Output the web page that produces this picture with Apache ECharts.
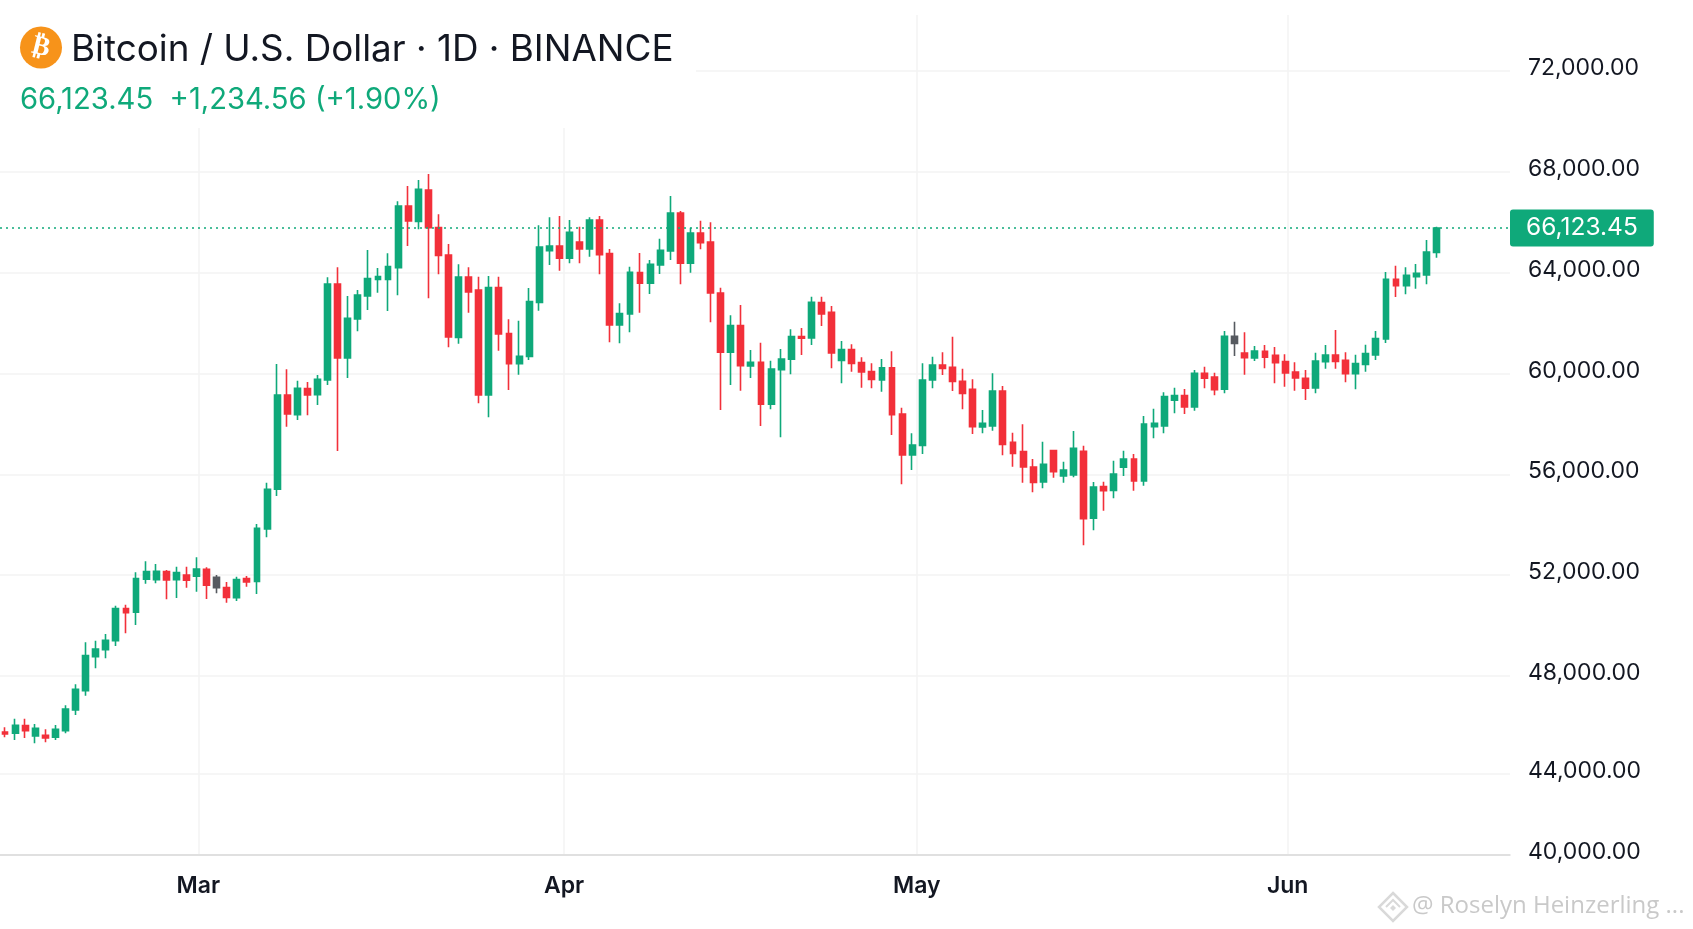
<!DOCTYPE html>
<html>
<head>
<meta charset="utf-8">
<title>Bitcoin / U.S. Dollar</title>
<style>html,body{margin:0;padding:0;background:#fff}#chart{width:1693px;height:929px}</style>
<script src="https://cdn.jsdelivr.net/npm/echarts@6/dist/echarts.min.js"></script>
</head>
<body>
<div id="chart"></div>
<script>
const titleText = 'Bitcoin / U.S. Dollar · 1D · BINANCE';
const quoteText = '66,123.45  +1,234.56 (+1.90%)';
const priceTagText = '66,123.45';
const watermarkText = '@ Roselyn Heinzerling ...';

const opens = [45779,45726,46030,45620,45646,45567,45832,46652,47419,48768,
49046,49403,50673,50527,51837,51823,52141,51823,52009,51956,
52233,51916,51506,51109,51863,51757,53834,55408,59151,58371,
59402,59164,59746,63556,60619,62167,63079,63741,63741,64204,
66651,66042,67286,65791,64706,61439,63833,63317,59151,63410,
61585,60394,60685,62828,64879,65064,64575,65223,64945,66096,
64760,61929,62366,64006,63583,64310,64866,66374,64376,65580,
65223,63199,60845,61903,60302,60448,58781,60157,60567,61466,
61413,62815,62432,60526,60950,60434,60077,59746,60235,58397,
56770,57153,59746,60341,60249,59693,59376,57881,57921,59309,
57272,56902,56294,55698,56942,55937,55976,56915,54257,55514,
55368,56281,56612,55739,57895,57921,58940,59125,58675,60011,
59865,59376,61479,60818,60619,60884,60725,60474,60064,59813,
59429,60474,60738,60527,59998,60368,60738,61373,63741,63490,
63847,63913,64812];
const closes = [45699,46043,45832,45924,45541,45884,46691,47472,48808,49072,
49416,50673,50514,51863,52141,52154,51810,52101,51797,52247,
51599,51506,51122,51823,51731,53860,55408,59151,58397,59416,
59151,59773,63556,60619,62193,63119,63767,63847,64243,66651,
66055,67312,65791,64693,61452,63833,63238,59151,63410,61571,
60394,60685,62855,65024,65064,64575,65606,64945,66096,64720,
61929,62379,64019,63583,64337,64892,66374,64376,65580,65196,
63199,60845,61903,60316,60448,58781,60183,60580,61466,61400,
62829,62366,60818,60950,60407,60063,59772,60235,58370,56770,
57167,59746,60341,60209,59693,59217,57894,58026,59309,57193,
56836,56294,55685,56399,56108,56175,57034,54243,55500,55355,
56017,56612,55739,58001,58027,59085,59125,58675,60011,59813,
59363,61479,61201,60633,60897,60646,60434,60024,59826,59416,
60500,60738,60487,59998,60395,60791,61387,63741,63490,63900,
63979,64826,65778];
const lows = [45567,45461,45541,45329,45369,45461,45726,46453,47220,48305,
48702,49191,49694,50024,51665,51678,51043,51096,51506,51347,
51056,51281,50911,50977,51546,51255,53504,55144,57894,58159,
58344,58754,59548,56929,59826,61677,62524,63212,62484,63106,
65063,65725,62987,63939,61042,61188,62418,58820,58265,60910,
59349,59958,60540,62497,64310,64085,64376,64376,64641,63940,
61241,61202,61638,62419,63159,63953,64509,63543,64006,64932,
62035,58556,59548,59324,59826,57921,58583,57472,59972,60739,
61136,61890,60210,59614,60077,59442,59415,59283,57563,55606,
56175,56809,59415,59944,59309,58582,57603,57630,57735,56757,
56307,55672,55288,55447,55870,55672,55884,53185,53781,54562,
55051,55937,55355,55554,57432,57630,58424,58397,58530,59416,
59138,59217,60699,59958,60500,60209,59614,59482,59323,58953,
59217,60196,60196,59654,59376,60077,60540,61215,63040,63146,
63371,63543,64601];
const highs = [45964,46308,46308,46096,45884,46056,46837,47670,49337,49403,
49667,50792,50831,52114,52551,52445,52207,52339,52339,52710,
52313,52009,51731,51942,51969,54032,55673,60381,60169,59720,
59667,59945,63820,64217,63079,63317,64905,64190,64772,66836,
67444,67682,67920,66320,65143,64336,64217,63847,63873,63847,
62154,62101,63397,65884,66202,66254,66096,65831,66202,66254,
64945,62789,64244,64786,64509,65355,67048,66453,65792,66069,
66003,63411,62313,62723,60937,61228,60514,60977,61757,61810,
63054,63054,62683,61293,61161,60645,60407,60579,60883,58648,
57630,60407,60672,60844,61465,60196,59772,58555,60010,59508,
57656,57987,56611,57299,56968,56505,57722,57140,55698,55712,
56546,56942,56810,58318,58609,59257,59442,59389,60143,60275,
60037,61691,62061,61638,61096,61135,61056,60765,60447,60143,
60831,61135,61730,60844,60752,61149,61691,64032,64283,64217,
64349,65302,65831];

const yTickValues = [40897,44120,48000,52000,56000,60000,64000,68000,72000];
const yTickLabels = ['40,000.00','44,000.00','48,000.00','52,000.00','56,000.00','60,000.00','64,000.00','68,000.00','72,000.00'];
const monthTicks = [19.18,55.46,90.45,127.25];
const monthLabels = ['Mar','Apr','May','Jun'];
const greyCandles = [21,122];

const GREEN = '#0FA97A', RED = '#F2303A', INK = '#131722', GRID = '#F3F3F3', FONT = 'Inter', GREY = '#565A60';

const candleData = opens.map((o, i) => {
  const value = [i, o, closes[i], lows[i], highs[i]];
  return greyCandles.includes(i)
    ? {value, itemStyle: {color: GREY, color0: GREY, borderColor: GREY, borderColor0: GREY}}
    : value;
});

const chart = echarts.init(document.getElementById('chart'), null, {renderer: 'canvas'});
chart.setOption({
  animation: false,
  backgroundColor: '#FFFFFF',
  textStyle: {fontFamily: FONT},
  title: [
    {text: titleText, left: 71, top: 28, padding: 0, z: 20,
      textStyle: {fontFamily: FONT, fontSize: 36.8, fontWeight: 400, color: INK, lineHeight: 44}},
    {text: quoteText, left: 20, top: 83, padding: 0, z: 20,
      textStyle: {fontFamily: FONT, fontSize: 29.2, fontWeight: 400, color: GREEN, lineHeight: 34}}
  ],
  grid: {left: 0, right: 183, top: 15, bottom: 74, containLabel: false},
  xAxis: {
    type: 'value', min: -0.496, max: 149.306,
    axisLine: {show: true, onZero: false, lineStyle: {color: '#D9D9D9', width: 1.5}},
    axisTick: {show: false, customValues: monthTicks},
    splitLine: {show: true, lineStyle: {color: GRID, width: 1.5}},
    axisLabel: {
      customValues: monthTicks, margin: 20, showMinLabel: true, showMaxLabel: true,
      color: INK, fontFamily: FONT, fontSize: 23, fontWeight: 600,
      formatter: v => monthLabels[monthTicks.indexOf(v)] || ''
    }
  },
  yAxis: {
    type: 'value', position: 'right', min: 40897, max: 74230, scale: true,
    axisLine: {show: false},
    axisTick: {show: false, customValues: yTickValues},
    splitLine: {show: true, lineStyle: {color: GRID, width: 1.5}},
    axisLabel: {
      customValues: yTickValues, margin: 18, verticalAlign: 'bottom', lineHeight: 6,
      color: INK, fontFamily: FONT, fontSize: 23, fontWeight: 400,
      formatter: v => yTickLabels[yTickValues.indexOf(v)] || ''
    }
  },
  series: [{
    type: 'candlestick',
    data: candleData,
    encode: {x: 0, y: [1, 2, 3, 4]},
    barWidth: 6.4,
    clip: false,
    itemStyle: {color: GREEN, color0: RED, borderColor: GREEN, borderColor0: RED, borderWidth: 1.6},
    markLine: {
      silent: true, symbol: 'none', animation: false,
      lineStyle: {color: GREEN, type: [2, 4], width: 1.6},
      label: {
        show: true, position: 'end', distance: 0, formatter: priceTagText,
        color: '#FFFFFF', backgroundColor: GREEN, borderRadius: 3,
        fontFamily: FONT, fontSize: 24.5, padding: [7, 16, 5, 16], lineHeight: 25
      },
      data: [{yAxis: closes[closes.length - 1]}]
    }
  }],
  graphic: [
    {type: 'rect', z: 5, silent: true, shape: {x: 0, y: 0, width: 696, height: 128}, style: {fill: '#FFFFFF'}},
    {type: 'circle', z: 21, silent: true, shape: {cx: 41, cy: 47.5, r: 21}, style: {fill: '#F7931A'}},
    {type: 'text', z: 22, silent: true, x: 41, y: 47.5, rotation: -0.24,
      style: {text: '₿', fill: '#FFFFFF', font: 'bold 27px "DejaVu Sans"', align: 'center', verticalAlign: 'middle'}},
    {type: 'polygon', z: 21, silent: true, shape: {points: [[1393, 893], [1407, 907], [1393, 921], [1379, 907]]},
      style: {fill: 'none', stroke: '#D9D9D9', lineWidth: 2.5}},
    {type: 'polyline', z: 21, silent: true, shape: {points: [[1386, 907], [1393, 900], [1400, 907]]},
      style: {fill: 'none', stroke: '#D9D9D9', lineWidth: 2}},
    {type: 'polygon', z: 21, silent: true, shape: {points: [[1393, 905], [1396, 908], [1393, 911], [1390, 908]]},
      style: {fill: '#D9D9D9'}},
    {type: 'text', z: 21, silent: true, x: 1412, y: 906,
      style: {text: watermarkText, fill: '#C9C9C9', font: '24px "Open Sans"', align: 'left', verticalAlign: 'middle'}}
  ]
});
</script>
</body>
</html>
